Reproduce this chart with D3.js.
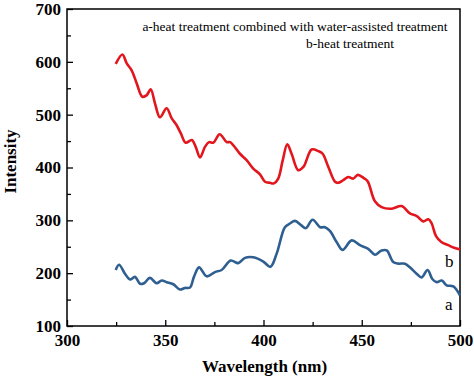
<!DOCTYPE html>
<html>
<head>
<meta charset="utf-8">
<script src="https://cdn.jsdelivr.net/npm/d3@7"></script>
<style>
  body { margin: 0; background: #fff; }
  text { font-family: "Liberation Serif", "Times New Roman", serif; }
</style>
</head>
<body>
<div id="chart"></div>
<script>
// wavelength (nm) / intensity
const waveB = [324.8, 328.2, 330.4, 332.9, 335.5, 338.3, 340.6, 342.6, 344.8, 347.3, 350.7, 353.3, 355.8, 358,
  360.4, 363.5, 365.5, 367.7, 370.2, 372.3, 374.5, 377.7, 381.3, 383, 388, 391.4, 394.8, 398.2, 400.8, 403.3,
  405.3, 407.5, 409.8, 412.1, 414.3, 417.7, 420.3, 424.5, 427.9, 430.1, 433, 436.4, 438, 440.6, 443.2, 445.7,
  448, 451, 453, 456.7, 460.1, 465.2, 470.3, 474.5, 478, 481.3, 483.9, 485.6, 487.8, 490.5, 494, 497, 500];
const intB = [596, 614, 597, 584, 559, 534, 537, 548, 521, 495, 512, 493, 480, 464,
  447, 452, 439, 419, 439, 448, 447, 463, 448, 448, 426, 414, 398, 387, 373, 371,
  370, 379, 414, 444, 426, 395, 401, 434, 431, 426, 401, 373, 371, 376, 382, 379,
  386, 380, 374, 336, 325, 322, 327, 313, 308, 298, 302, 294, 270, 259, 253, 248, 245];

const waveA = [324.8, 326.5, 329.5, 332.1, 334.6, 337.2, 339.2, 342.2, 345.6, 348.2, 350.7, 354.1, 357.5, 360,
  362.6, 364.6, 367.2, 371.1, 375.3, 378.7, 383.3, 387.2, 390.6, 394.8, 399.9, 403.5, 406.7, 410.9, 413.5,
  416, 419.1, 421.5, 425, 428.8, 431.3, 433.8, 437.2, 440.2, 444.9, 449.1, 453.3, 456.7, 460.1, 462.7, 466,
  468.6, 472, 474.5, 477.9, 480.5, 483.5, 485.9, 488.1, 490.7, 493.2, 496.6, 500];
const intA = [206, 216, 199, 188, 193, 180, 181, 191, 181, 186, 183, 179, 169, 172,
  173, 193, 211, 194, 202, 206, 224, 219, 229, 230, 222, 212, 237, 287, 294,
  299, 291, 285, 301, 287, 287, 280, 259, 244, 262, 253, 246, 235, 243, 243, 221,
  218, 218, 211, 199, 192, 206, 189, 183, 186, 177, 175, 158];

const xMajor = [300, 350, 400, 450, 500];
const xMinor = [325, 375, 425, 475];
const yMajor = [100, 200, 300, 400, 500, 600, 700];
const yMinor = [150, 250, 350, 450, 550, 650];

const margin = { top: 9, right: 14, bottom: 54, left: 67 };
const width = 474 - margin.left - margin.right;
const height = 380 - margin.top - margin.bottom;

const svg = d3.select('#chart')
  .append('svg')
    .attr('width', 474)
    .attr('height', 380)
  .append('g')
    .attr('transform', 'translate(' + margin.left + ',' + margin.top + ')');

const x = d3.scaleLinear().domain([300, 500]).range([0, width]);
const y = d3.scaleLinear().domain([100, 700]).range([height, 0]);

// frame
svg.append('rect')
  .attr('width', width)
  .attr('height', height)
  .style('fill', 'none')
  .style('stroke', '#000')
  .style('stroke-width', 1.5);

// axes, ticks pointing inward
const xAx = svg.append('g')
  .attr('transform', 'translate(0,' + height + ')')
  .call(d3.axisBottom(x).tickValues(xMajor).tickSize(-6).tickPadding(8).tickFormat(d3.format('d')));
svg.append('g')
  .attr('transform', 'translate(0,' + height + ')')
  .call(d3.axisBottom(x).tickValues(xMinor).tickSize(-4).tickFormat(''));
const yAx = svg.append('g')
  .call(d3.axisLeft(y).tickValues(yMajor).tickSize(-6).tickPadding(6).tickFormat(d3.format('d')));
svg.append('g')
  .call(d3.axisLeft(y).tickValues(yMinor).tickSize(-4).tickFormat(''));

svg.selectAll('.domain').remove();
svg.selectAll('.tick line').style('stroke', '#000').style('stroke-width', 1.3);
[xAx, yAx].forEach(a => a.selectAll('text')
  .style('font-family', '"Liberation Serif", "Times New Roman", serif')
  .style('font-size', '17px')
  .style('font-weight', 'bold')
  .style('fill', '#000'));

// curves
const line = d3.line()
  .x(d => x(d[0]))
  .y(d => y(d[1]))
  .curve(d3.curveCatmullRom.alpha(0.5));

svg.append('path')
  .datum(d3.zip(waveB, intB))
  .attr('d', line)
  .style('fill', 'none')
  .style('stroke', '#e3161d')
  .style('stroke-width', 2.6);

svg.append('path')
  .datum(d3.zip(waveA, intA))
  .attr('d', line)
  .style('fill', 'none')
  .style('stroke', '#2e5f90')
  .style('stroke-width', 2.6);

// curve labels
svg.append('text')
  .attr('x', x(492.4)).attr('y', y(212))
  .style('font-size', '17px')
  .text('b');
svg.append('text')
  .attr('x', x(492.4)).attr('y', y(130))
  .style('font-size', '17px')
  .text('a');

// legend text
svg.append('text')
  .attr('x', 228).attr('y', 22)
  .attr('text-anchor', 'middle')
  .style('font-size', '13.5px')
  .text('a-heat treatment combined with water-assisted treatment');
svg.append('text')
  .attr('x', 283).attr('y', 39)
  .attr('text-anchor', 'middle')
  .style('font-size', '13.5px')
  .text('b-heat treatment');

// axis titles
svg.append('text')
  .attr('x', width / 2 + 1).attr('y', height + 46)
  .attr('text-anchor', 'middle')
  .style('font-size', '17px')
  .style('font-weight', 'bold')
  .text('Wavelength (nm)');

svg.append('text')
  .attr('transform', 'rotate(-90)')
  .attr('x', -height / 2 + 6).attr('y', -51)
  .attr('text-anchor', 'middle')
  .style('font-size', '17px')
  .style('font-weight', 'bold')
  .text('Intensity');
</script>
</body>
</html>
